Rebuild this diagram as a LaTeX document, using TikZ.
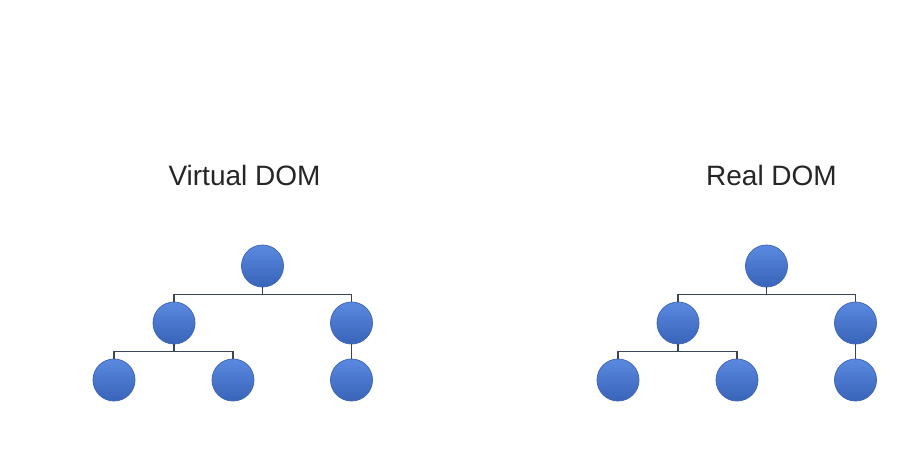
\documentclass[tikz,border=0pt]{standalone}
\usepackage{fontspec}
\setmainfont{Liberation Sans}
\definecolor{nodetop}{HTML}{5A8AE0}
\definecolor{nodebot}{HTML}{3863B8}
\definecolor{nodeedge}{HTML}{4068B5}
\definecolor{linkc}{HTML}{3A4558}
\begin{document}
\begin{tikzpicture}[x=1pt,y=-1pt,
  domnode/.style={circle,minimum size=42pt,inner sep=0pt,draw=nodeedge,line width=0.8pt,top color=nodetop,bottom color=nodebot},
  link/.style={draw=linkc,line width=1.6pt},
  title/.style={font=\fontsize{28}{33}\selectfont,text=black!85}]
\useasboundingbox[fill=white] (0,0) rectangle (924,448);
% Virtual DOM
\node[title] (vt) at (244.5,175) {Virtual DOM};
\node[domnode] (v0) at (262.5,266) {};
\node[domnode] (v1) at (174,323) {};
\node[domnode] (v2) at (351.5,323) {};
\node[domnode] (v3) at (114,380) {};
\node[domnode] (v4) at (233,380) {};
\node[domnode] (v5) at (351.5,380) {};
\coordinate (vb0) at (262.5,294.5);
\coordinate (vb1) at (174,351.5);
\draw[link] (v0) -- (vb0);
\draw[link] (v1.north) |- (vb0) -| (v2.north);
\draw[link] (v1) -- (vb1);
\draw[link] (v3.north) |- (vb1) -| (v4.north);
\draw[link] (v2) -- (v5);
% Real DOM
\node[title] (rt) at (771.5,175) {Real DOM};
\node[domnode] (r0) at (766.5,266) {};
\node[domnode] (r1) at (678,323) {};
\node[domnode] (r2) at (855.5,323) {};
\node[domnode] (r3) at (618,380) {};
\node[domnode] (r4) at (737,380) {};
\node[domnode] (r5) at (855.5,380) {};
\coordinate (rb0) at (766.5,294.5);
\coordinate (rb1) at (678,351.5);
\draw[link] (r0) -- (rb0);
\draw[link] (r1.north) |- (rb0) -| (r2.north);
\draw[link] (r1) -- (rb1);
\draw[link] (r3.north) |- (rb1) -| (r4.north);
\draw[link] (r2) -- (r5);
\end{tikzpicture}
\end{document}
